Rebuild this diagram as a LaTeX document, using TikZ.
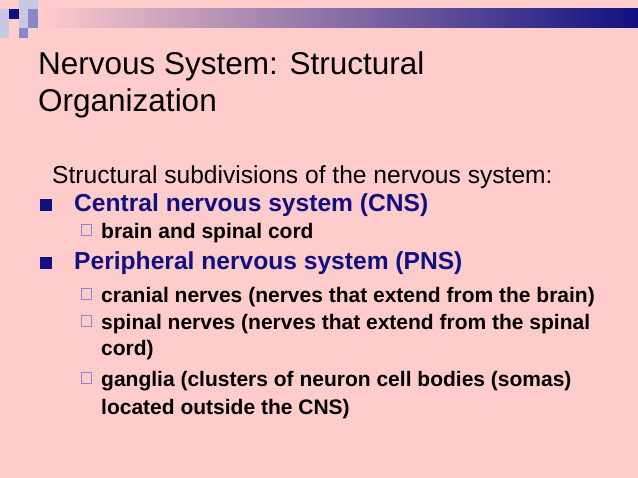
\documentclass[tikz,border=0pt]{standalone}
\usepackage{fontspec}
\setmainfont{Liberation Sans}
\begin{document}
\begin{tikzpicture}[x=1pt,y=-1pt,
  txt/.style={anchor=base west,inner sep=0pt},
  ttl/.style={txt,font=\fontsize{31.5}{34}\selectfont},
  lv1/.style={txt,font=\fontsize{24.6}{28}\selectfont},
  lv1b/.style={txt,font=\fontsize{24.6}{28}\selectfont\bfseries,text=navy},
  lv2/.style={txt,font=\fontsize{21}{24}\selectfont\bfseries}]
\definecolor{bg}{RGB}{255,204,204}
\definecolor{navy}{RGB}{16,16,128}
\definecolor{lt}{RGB}{200,200,228}
\definecolor{md}{RGB}{136,136,200}
\fill[bg] (0,0) rectangle (638,478);
\shade[left color=bg,right color=navy] (40,9) rectangle (638,28);
\fill[lt] (0,9) rectangle (9,38);
\fill[lt] (19,0) rectangle (38,9);
\fill[navy] (9,9) rectangle (19,19);
\fill[lt] (19,9) rectangle (28,19);
\fill[md] (28,9) rectangle (38,19);
\fill[lt] (19,19) rectangle (28,28);
\fill[md] (28,19) rectangle (38,28);
\fill[md] (19,28) rectangle (28,38);
\node[ttl] (t1) at (38,75) {Nervous System: Structural};
\node[ttl] (t2) at (38,112) {Organization};
\node[lv1] (b0) at (52,184) {Structural subdivisions of the nervous system:};
\fill[navy] (40,199) rectangle (52,211);
\node[lv1b] (b1) at (74,212) {Central nervous system (CNS)};
\draw[md,line width=0.8] (81,224) rectangle (91,235);
\node[lv2] (b2) at (101,239) {brain and spinal cord};
\fill[navy] (40,257) rectangle (52,269);
\node[lv1b] (b3) at (74,270) {Peripheral nervous system (PNS)};
\draw[md,line width=0.8] (81,288) rectangle (91,299);
\node[lv2] (b4) at (101,303) {cranial nerves (nerves that extend from the brain)};
\draw[md,line width=0.8] (81,315) rectangle (91,326);
\node[lv2] (b5) at (101,330) {spinal nerves (nerves that extend from the spinal};
\node[lv2] (b6) at (101,356) {cord)};
\draw[md,line width=0.8] (81,372) rectangle (91,383);
\node[lv2] (b7) at (101,387) {ganglia (clusters of neuron cell bodies (somas)};
\node[lv2] (b8) at (101,415) {located outside the CNS)};
\end{tikzpicture}
\end{document}
